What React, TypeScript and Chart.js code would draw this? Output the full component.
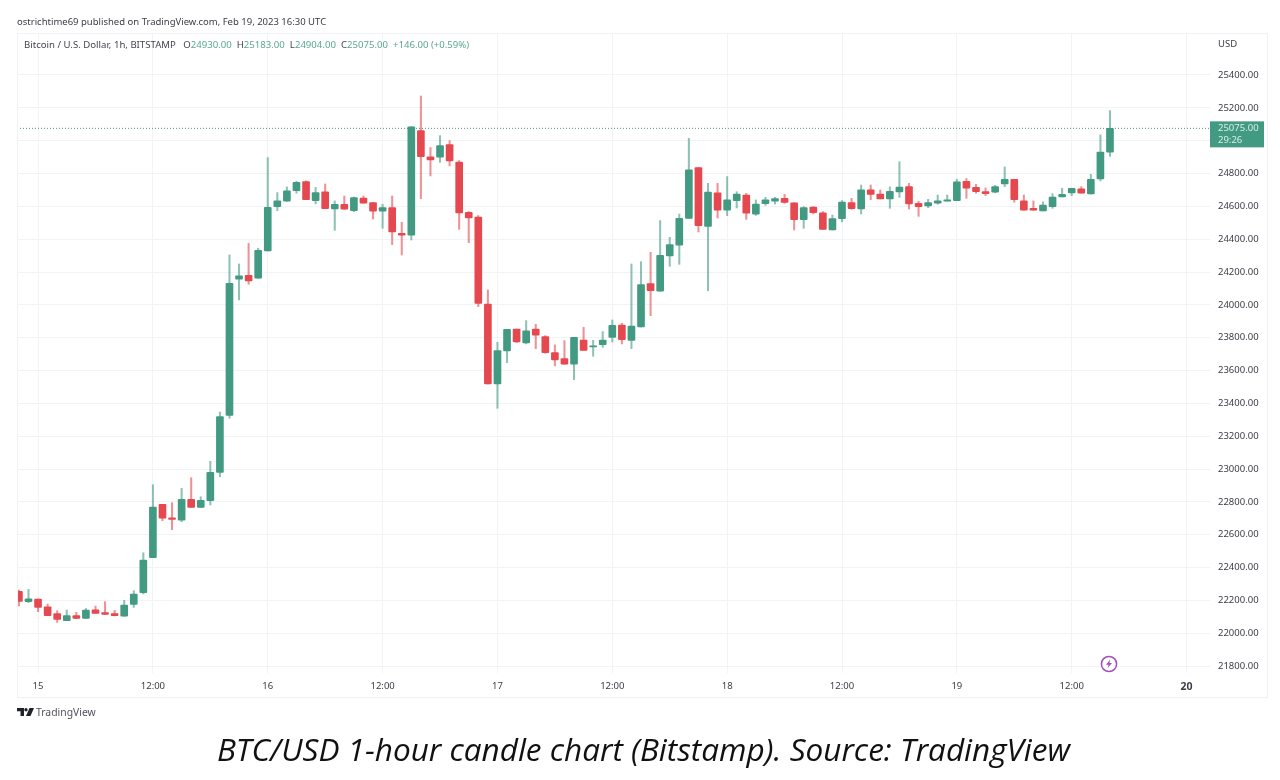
import { useEffect, useRef } from 'react'
import { Chart, registerables } from 'chart.js'

Chart.register(...registerables);

const FONT = '"Noto Sans", sans-serif';
const GREEN = '#429a82';
const RED = '#e5484f';
const GRID = '#f1f3f7';
const TEXT = '#3a3d45';

// BITSTAMP BTC/USD 1h candles, Feb 14 22:00 to Feb 19 16:00
const opens = [
  22255, 22192, 22208, 22161, 22119, 22076, 22107, 22090, 22143, 22125,
  22119, 22103, 22176, 22247, 22460, 22785, 22703, 22689, 22815, 22766,
  22807, 22980, 23327, 24156, 24180, 24162, 24328, 24598, 24631, 24696,
  24751, 24635, 24688, 24584, 24613, 24574, 24651, 24623, 24570, 24592,
  24436, 24424, 25061, 24901, 24899, 24976, 24870, 24564, 24535, 24004,
  23518, 23719, 23853, 23768, 23853, 23807, 23709, 23673, 23638, 23786,
  23743, 23758, 23802, 23877, 23784, 23865, 24129, 24084, 24298, 24363,
  24527, 24836, 24478, 24683, 24576, 24635, 24669, 24553, 24616, 24631,
  24649, 24622, 24519, 24596, 24561, 24456, 24525, 24623, 24584, 24700,
  24675, 24645, 24688, 24720, 24619, 24602, 24619, 24631, 24635, 24753,
  24716, 24690, 24686, 24736, 24765, 24633, 24588, 24572, 24598, 24657,
  24682, 24706, 24675, 24767, 24930,
];
const closes = [
  22194, 22210, 22157, 22107, 22084, 22107, 22090, 22141, 22121, 22115,
  22107, 22172, 22239, 22446, 22768, 22701, 22693, 22815, 22766, 22809,
  22980, 23319, 24131, 24176, 24146, 24332, 24594, 24633, 24694, 24747,
  24641, 24684, 24586, 24613, 24582, 24653, 24619, 24570, 24592, 24444,
  24424, 25085, 24903, 24883, 24970, 24877, 24560, 24529, 24008, 23518,
  23721, 23851, 23774, 23841, 23815, 23709, 23664, 23638, 23802, 23723,
  23751, 23786, 23875, 23788, 23871, 24123, 24086, 24302, 24367, 24527,
  24823, 24482, 24687, 24576, 24639, 24675, 24559, 24614, 24639, 24647,
  24624, 24519, 24592, 24561, 24460, 24525, 24626, 24586, 24700, 24673,
  24645, 24692, 24718, 24615, 24598, 24623, 24633, 24639, 24749, 24710,
  24690, 24677, 24720, 24765, 24641, 24576, 24576, 24608, 24657, 24673,
  24710, 24680, 24765, 24931, 25075,
];
const highs = [
  22263, 22267, 22208, 22178, 22137, 22141, 22127, 22151, 22165, 22192,
  22139, 22200, 22259, 22490, 22904, 22785, 22795, 22882, 22947, 22831,
  23047, 23347, 24304, 24249, 24375, 24345, 24897, 24684, 24718, 24753,
  24755, 24716, 24736, 24633, 24663, 24657, 24663, 24623, 24613, 24663,
  24503, 25085, 25272, 24958, 25031, 25000, 24879, 24568, 24544, 24091,
  23772, 23851, 23853, 23904, 23882, 23813, 23756, 23782, 23802, 23863,
  23784, 23837, 23908, 23888, 24249, 24263, 24320, 24513, 24411, 24553,
  25014, 24838, 24740, 24740, 24781, 24689, 24679, 24639, 24655, 24655,
  24673, 24622, 24598, 24598, 24568, 24547, 24635, 24649, 24730, 24730,
  24700, 24718, 24872, 24740, 24631, 24643, 24669, 24669, 24765, 24769,
  24734, 24712, 24728, 24840, 24765, 24669, 24633, 24627, 24677, 24710,
  24710, 24720, 24795, 25035, 25183,
];
const lows = [
  22166, 22186, 22131, 22107, 22066, 22076, 22088, 22090, 22121, 22115,
  22105, 22103, 22157, 22239, 22460, 22685, 22630, 22679, 22766, 22766,
  22781, 22953, 23309, 24030, 24125, 24162, 24328, 24574, 24631, 24680,
  24641, 24615, 24586, 24454, 24582, 24568, 24619, 24523, 24466, 24367,
  24304, 24395, 24647, 24785, 24868, 24846, 24460, 24379, 23989, 23518,
  23370, 23648, 23770, 23762, 23733, 23705, 23628, 23638, 23544, 23723,
  23687, 23741, 23774, 23762, 23733, 23865, 23934, 24084, 24235, 24247,
  24527, 24444, 24086, 24529, 24543, 24590, 24521, 24545, 24606, 24614,
  24618, 24456, 24466, 24553, 24460, 24456, 24505, 24582, 24554, 24641,
  24645, 24588, 24655, 24584, 24539, 24592, 24613, 24631, 24635, 24649,
  24680, 24665, 24682, 24720, 24625, 24576, 24576, 24572, 24588, 24657,
  24665, 24680, 24675, 24755, 24904,
];

const timeTicks = [2, 14, 26, 38, 50, 62, 74, 86, 98, 110, 122];
const timeLabels = ['15', '12:00', '16', '12:00', '17', '12:00', '18', '12:00', '19', '12:00', '20'];
const priceTicks = [
  21800, 22000, 22200, 22400, 22600, 22800, 23000, 23200, 23400, 23600,
  23800, 24000, 24200, 24400, 24600, 24800, 25000, 25200, 25400,
];
const lastPrice = 25075;
const countdown = '29:26';

// dotted last price line and the green price tag over the axis
const lastPricePlugin = {
  id: 'lastPrice',
  afterDraw(chart: Chart) {
    const { ctx, chartArea } = chart;
    const y = chart.scales.y.getPixelForValue(lastPrice);
    ctx.save();
    ctx.strokeStyle = '#4f8f7d';
    ctx.lineWidth = 1;
    ctx.setLineDash([1, 2]);
    ctx.beginPath();
    ctx.moveTo(chartArea.left, y);
    ctx.lineTo(chartArea.right, y);
    ctx.stroke();
    ctx.setLineDash([]);
    ctx.fillStyle = GREEN;
    ctx.fillRect(chartArea.right, y - 7, 54, 26);
    ctx.fillStyle = '#d9eee8';
    ctx.font = `9.5px ${FONT}`;
    ctx.textBaseline = 'middle';
    ctx.fillText(lastPrice.toFixed(2), chartArea.right + 8, y);
    ctx.fillText(countdown, chartArea.right + 8, y + 12);
    ctx.restore();
  },
};

export default function App() {
  const canvasRef = useRef<HTMLCanvasElement>(null);

  useEffect(() => {
    document.body.style.margin = '0';
    document.body.style.background = '#fff';
    if (!canvasRef.current) return;
    const colors = opens.map((o, i) => (closes[i] >= o ? GREEN : RED));
    const chart = new Chart(canvasRef.current, {
      type: 'bar',
      data: {
        datasets: [
          {
            label: 'Body',
            data: opens.map((o, i) => ({ x: i, y: [o, closes[i]] })),
            backgroundColor: colors,
            barThickness: 7,
            borderRadius: 1,
            borderSkipped: false,
            grouped: false,
          },
          {
            label: 'Wick',
            data: lows.map((l, i) => ({ x: i, y: [l, highs[i]] })),
            backgroundColor: colors.map(c => c + '99'),
            barThickness: 1.4,
            grouped: false,
          },
        ],
      } as any,
      options: {
        animation: false,
        responsive: false,
        layout: { padding: { left: 17, top: 33, right: 0, bottom: 0 } },
        plugins: { legend: { display: false }, tooltip: { enabled: false } },
        scales: {
          x: {
            type: 'linear',
            offset: false,
            min: -0.2,
            max: 124.45,
            afterBuildTicks: (scale: any) => {
              scale.ticks = timeTicks.map(value => ({ value }));
            },
            afterFit: (scale: any) => {
              scale.height = 107;
            },
            grid: { color: GRID, drawTicks: false, offset: false },
            border: { display: false },
            ticks: {
              autoSkip: false,
              maxRotation: 0,
              padding: 8,
              color: TEXT,
              font: (ctx: any) => {
                const isEnd = ctx.tick && ctx.tick.value === 122;
                return { family: FONT, size: isEnd ? 10.5 : 9.5, weight: isEnd ? 'bold' : 'normal' };
              },
              callback: (v: any) => timeLabels[timeTicks.indexOf(v)],
            },
          },
          y: {
            position: 'right',
            min: 21757.6,
            max: 25655.8,
            afterBuildTicks: (scale: any) => {
              scale.ticks = priceTicks.map(value => ({ value }));
            },
            afterFit: (scale: any) => {
              scale.width = 70;
            },
            grid: { color: GRID, drawTicks: false },
            border: { display: false },
            ticks: {
              autoSkip: false,
              padding: 8,
              color: TEXT,
              font: { family: FONT, size: 9.5 },
              callback: (v: any) => Number(v).toFixed(2),
            },
          },
        },
      },
      plugins: [lastPricePlugin],
    });
    return () => chart.destroy();
  }, []);

  const label = { position: 'absolute', fontFamily: FONT, whiteSpace: 'nowrap' } as const;
  const val = { color: '#5aa894' };

  return (
    <div style={{ position: 'absolute', left: 0, top: 0, width: 1280, height: 780, background: '#fff', overflow: 'hidden' }}>
      <canvas ref={canvasRef} width={1280} height={780} style={{ position: 'absolute', left: 0, top: 0 }} />
      <div style={{ position: 'absolute', left: 17, top: 33, width: 1249, height: 663, border: '1px solid #eff1f5', pointerEvents: 'none' }} />
      <div style={{ ...label, left: 17, top: 15, fontSize: 9.5, color: TEXT }}>
        ostrichtime69 published on TradingView.com, Feb 19, 2023 16:30 UTC
      </div>
      <div style={{ ...label, left: 24, top: 38, fontSize: 9.6, color: '#44474f' }}>
        Bitcoin / U.S. Dollar, 1h, BITSTAMP&nbsp;&nbsp;&nbsp;O<span style={val}>24930.00</span>&nbsp;&nbsp;H<span style={val}>25183.00</span>
        &nbsp;&nbsp;L<span style={val}>24904.00</span>&nbsp;&nbsp;C<span style={val}>25075.00</span>&nbsp;&nbsp;<span style={val}>+146.00 (+0.59%)</span>
      </div>
      <div style={{ ...label, left: 1218, top: 37, fontSize: 9.5, color: TEXT }}>USD</div>
      <svg width="18" height="18" viewBox="0 0 18 18" style={{ position: 'absolute', left: 1100, top: 655 }}>
        <circle cx="9" cy="9" r="7.6" fill="#fff" stroke="#a04fc0" strokeWidth="1.5" />
        <path d="M10.2 4.6 L6 9.8 H8.6 L7.6 13.2 L12 8 H9.4 Z" fill="#a04fc0" />
      </svg>
      <svg width="17" height="9" viewBox="0 0 17 9" style={{ position: 'absolute', left: 17, top: 708 }}>
        <path d="M0 0 H7 V8 H3.5 V3.2 H0 Z" fill="#1f2229" />
        <circle cx="9" cy="1.8" r="1.7" fill="#1f2229" />
        <path d="M12.5 0 H17 L13.5 8 H9 Z" fill="#1f2229" />
      </svg>
      <div style={{ ...label, left: 36, top: 705, fontSize: 10.4, color: '#50535b' }}>TradingView</div>
      <div style={{ ...label, left: 0, width: 1287, textAlign: 'center', top: 727, fontSize: 31.5, fontStyle: 'italic', color: '#111', fontFamily: '"Open Sans", sans-serif' }}>
        BTC/USD 1-hour candle chart (Bitstamp). Source: TradingView
      </div>
    </div>
  );
}
